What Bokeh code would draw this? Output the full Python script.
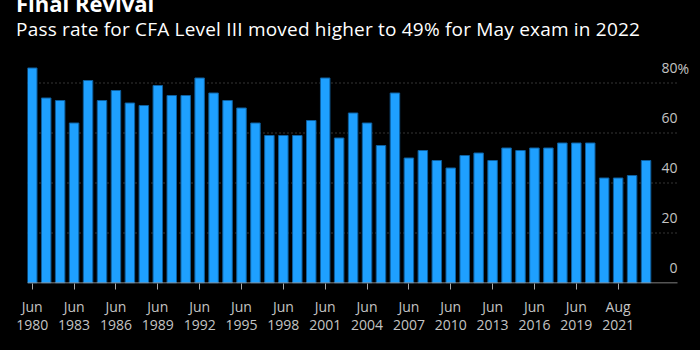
from bokeh.plotting import figure
from bokeh.models import ColumnDataSource, FixedTicker, Range1d, Label, Div
from bokeh.layouts import column
from bokeh.embed import file_html
from bokeh.resources import INLINE

# ---- data ----
categories = [f"Jun {y}" for y in range(1980, 2020)] + [
    "Dec 2020", "May 2021", "Aug 2021", "Nov 2021", "May 2022"]
pass_rate = [86, 74, 73, 64, 81, 73, 77, 72, 71, 79,
             75, 75, 82, 76, 73, 70, 64, 59, 59, 59,
             65, 82, 58, 68, 64, 55, 76, 50, 53, 49,
             46, 51, 52, 49, 54, 53, 54, 54, 56, 56,
             56, 42, 42, 43, 49]
tick_every = 3
y_ticks = [0, 20, 40, 60, 80]
title_text = "Final Revival"
subtitle_text = "Pass rate for CFA Level III moved higher to 49% for May exam in 2022"
source_text = "Source: CFA Institute"

# ---- layout ----
W = 700
HEAD_H = 45
FIG_H = 300
FOOT_H = 5
frame_left, frame_right = 27, 692
grid_right = 677
frame_top, frame_bottom = 15, 238
bar_w = 0.68
x_start = -bar_w / 2
px_per_bar = 13.95
x_end = x_start + (frame_right - frame_left) / px_per_bar
x_grid_end = x_start + (grid_right - frame_left) / px_per_bar
px_per_unit = 2.5
y_start = -0.2
y_end = y_start + (frame_bottom - frame_top) / px_per_unit

FONT = "Open Sans"
LABEL_COLOR = "#c4c4c4"

head = Div(width=W, height=HEAD_H, margin=0,
           styles={"background-color": "black"},
           text=(
               f'<div style="position:relative;width:{W}px;height:{HEAD_H}px;'
               f'overflow:hidden;font-family:\'{FONT}\';color:white;">'
               f'<div style="position:absolute;left:16px;top:-8px;font-size:22px;'
               f'line-height:22px;font-weight:bold;'
               f'white-space:nowrap;">{title_text}</div>'
               f'<div style="position:absolute;left:16px;top:20px;font-size:19px;'
               f'line-height:19px;letter-spacing:0.2px;white-space:nowrap;">'
               f'{subtitle_text}</div>'
               f'</div>'))

p = figure(width=W, height=FIG_H, output_backend="svg", toolbar_location=None,
           x_range=Range1d(x_start, x_end), y_range=Range1d(y_start, y_end),
           min_border_left=frame_left, min_border_right=W - frame_right,
           min_border_top=frame_top, min_border_bottom=FIG_H - frame_bottom,
           background_fill_color="black", border_fill_color="black",
           outline_line_color=None, margin=0)

src = ColumnDataSource(dict(x=list(range(len(pass_rate))), rate=pass_rate,
                            cat=categories))

# dotted gridlines (stop before the y labels' % sign)
grid_vals = [t for t in y_ticks if t > 0]
p.segment(x0=[x_start] * len(grid_vals), x1=[x_grid_end] * len(grid_vals),
          y0=grid_vals, y1=grid_vals, line_color="#6a6a6a",
          line_dash="1 3", line_width=1)

p.vbar(x="x", top="rate", width=bar_w, source=src,
       fill_color="#1ea0ff", line_color="#0e5f9e", line_width=1)

# baseline
p.segment(x0=[x_start], x1=[x_grid_end], y0=[0], y1=[0],
          line_color="#a8a8a8", line_width=1)

# x axis
idx = list(range(0, len(categories), tick_every))
ax = p.xaxis[0]
ax.ticker = FixedTicker(ticks=idx)
ax.major_label_overrides = {i: categories[i].replace(" ", "\n") for i in idx}
ax.major_tick_in = 0
ax.major_tick_out = 6
ax.minor_tick_line_color = None
ax.axis_line_color = None
ax.major_tick_line_color = "#a8a8a8"
ax.major_label_text_color = LABEL_COLOR
ax.major_label_text_font = FONT
ax.major_label_text_font_size = "14px"
ax.major_label_text_line_height = 0.95
ax.major_label_standoff = 7

p.yaxis.visible = False
p.xgrid.grid_line_color = None
p.ygrid.grid_line_color = None

# y labels inside the plot, right side
for t in y_ticks:
    p.add_layout(Label(x=x_grid_end, y=t, text=str(t), text_align="right",
                       text_baseline="middle", y_offset=15,
                       text_color=LABEL_COLOR, text_font=FONT,
                       text_font_size="14px"))
p.add_layout(Label(x=x_grid_end, y=y_ticks[-1], text="%", text_align="left",
                   text_baseline="middle", y_offset=15,
                   text_color=LABEL_COLOR, text_font=FONT,
                   text_font_size="14px"))

foot = Div(width=W, height=FOOT_H, margin=0,
           styles={"background-color": "black"},
           text=(
               f'<div style="position:relative;width:{W}px;height:{FOOT_H}px;'
               f'overflow:hidden;font-family:\'{FONT}\';color:{LABEL_COLOR};">'
               f'<div style="position:absolute;left:16px;top:1px;font-size:14px;'
               f'line-height:14px;white-space:nowrap;">{source_text}</div>'
               f'</div>'))

layout = column(head, p, foot, spacing=0, margin=0,
                styles={"background-color": "black"})

open("out.html", "w").write(file_html(layout, INLINE))
